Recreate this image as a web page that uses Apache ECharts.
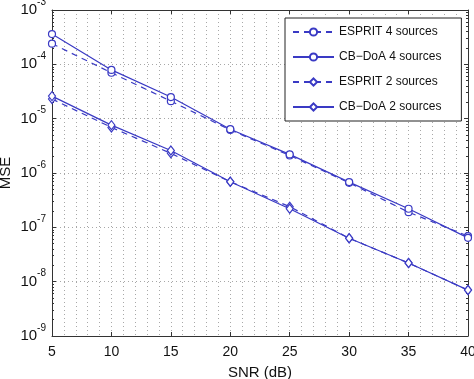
<!DOCTYPE html>
<html><head><meta charset="utf-8">
<script src="https://cdn.jsdelivr.net/npm/echarts@6/dist/echarts.min.js"></script>
<style>html,body{margin:0;padding:0;background:#fff}#c{width:474px;height:379px}</style>
</head><body><div id="c"></div>
<script>
const snr = [5, 10, 15, 20, 25, 30, 35, 40];
const esprit4 = [2.4e-4, 7.0e-5, 2.1e-5, 6.2e-6, 2.1e-6, 6.6e-7, 1.9e-7, 6.9e-8];
const cbdoa4  = [3.6e-4, 7.9e-5, 2.5e-5, 6.4e-6, 2.2e-6, 6.8e-7, 2.2e-7, 6.4e-8];
const esprit2 = [2.3e-5, 6.9e-6, 2.3e-6, 6.9e-7, 2.4e-7, 6.3e-8, 2.2e-8, 7.0e-9];
const cbdoa2  = [2.6e-5, 7.6e-6, 2.6e-6, 6.9e-7, 2.2e-7, 6.3e-8, 2.2e-8, 7.0e-9];
const seriesNames = ['ESPRIT 4 sources', 'CB\u2212DoA 4 sources', 'ESPRIT 2 sources', 'CB\u2212DoA 2 sources'];
const xTitle = 'SNR (dB)';
const yTitle = 'MSE';

const FONT = 'Liberation Sans, Arial, sans-serif';
const BLUE = '#3a3ac4';
const GRID = '#a8a8a8';
const AX = '#333';

function pairs(vals) { return snr.map((x, i) => [x, vals[i]]); }

function mk(name, vals, symbol, dashed) {
  return {
    name: name, type: 'line', data: pairs(vals),
    symbol: symbol, symbolSize: symbol === 'diamond' ? [7, 9] : 7,
    showSymbol: true,
    lineStyle: { color: BLUE, width: 1.2, type: dashed ? [6, 5] : 'solid' },
    itemStyle: { color: '#fff', borderColor: BLUE, borderWidth: 1.2 },
    emphasis: { disabled: true },
    animation: false,
    z: 3
  };
}

const chart = echarts.init(document.getElementById('c'), null, { renderer: 'canvas' });
chart.setOption({
  animation: false,
  backgroundColor: '#fff',
  textStyle: { fontFamily: FONT },
  grid: { left: 52, right: 6, top: 10, bottom: 43, containLabel: false, outerBoundsMode: 'none' },
  legend: {
    data: seriesNames,
    orient: 'vertical',
    left: 285, top: 18,
    itemWidth: 41, itemHeight: 9, itemGap: 13,
    padding: [8, 20, 8, 7],
    borderColor: '#222', borderWidth: 1, backgroundColor: '#fff',
    textStyle: { fontSize: 12, color: '#111', fontFamily: FONT },
    selectedMode: false
  },
  xAxis: [{
    type: 'value', min: 5, max: 40, interval: 5, position: 'bottom',
    name: xTitle, nameLocation: 'middle', nameGap: 29, nameMoveOverlap: false,
    nameTextStyle: { fontSize: 15, color: '#111', fontFamily: FONT },
    axisLine: { show: true, lineStyle: { color: AX, width: 1 } },
    axisTick: { show: true, inside: true, length: 4, lineStyle: { color: AX } },
    axisLabel: { fontSize: 14, color: '#111', margin: 9, fontFamily: FONT },
    splitLine: { show: true, lineStyle: { color: GRID, type: [1, 3], width: 1 } },
    minorTick: { show: false, splitNumber: 5 },
    minorSplitLine: { show: true, lineStyle: { color: GRID, type: [1, 3], width: 1 } }
  }, {
    type: 'value', min: 5, max: 40, interval: 5, position: 'top',
    axisLine: { show: true, lineStyle: { color: AX, width: 1 } },
    axisTick: { show: true, inside: true, length: 4, lineStyle: { color: AX } },
    axisLabel: { show: false }, splitLine: { show: false }
  }],
  yAxis: [{
    type: 'log', logBase: 10, min: 1e-9, max: 1e-3, position: 'left',
    name: yTitle, nameLocation: 'middle', nameGap: 39, nameRotate: 90, nameMoveOverlap: false,
    nameTextStyle: { fontSize: 15, color: '#111', fontFamily: FONT },
    axisLine: { show: true, lineStyle: { color: AX, width: 1 } },
    axisTick: { show: true, inside: true, length: 4, lineStyle: { color: AX } },
    minorTick: { show: true, splitNumber: 9, length: 2, lineStyle: { color: AX } },
    axisLabel: {
      margin: 6, color: '#111', align: 'right',
      formatter: function (v) { return '{b|10}{s|' + Math.round(Math.log10(v)) + '}'; },
      rich: {
        b: { fontSize: 15, fontFamily: FONT, color: '#111', lineHeight: 26, verticalAlign: 'middle' },
        s: { fontSize: 10, fontFamily: FONT, color: '#111', lineHeight: 10, verticalAlign: 'top' }
      }
    },
    splitLine: { show: true, lineStyle: { color: GRID, type: [1, 3], width: 1 } }
  }, {
    type: 'log', logBase: 10, min: 1e-9, max: 1e-3, position: 'right',
    axisLine: { show: true, lineStyle: { color: AX, width: 1 } },
    axisTick: { show: true, inside: true, length: 4, lineStyle: { color: AX } },
    minorTick: { show: true, splitNumber: 9, length: 2, lineStyle: { color: AX } },
    axisLabel: { show: false }, splitLine: { show: false }
  }],
  series: [
    mk(seriesNames[0], esprit4, 'circle', true),
    mk(seriesNames[1], cbdoa4, 'circle', false),
    mk(seriesNames[2], esprit2, 'diamond', true),
    mk(seriesNames[3], cbdoa2, 'diamond', false)
  ]
});
</script></body></html>
